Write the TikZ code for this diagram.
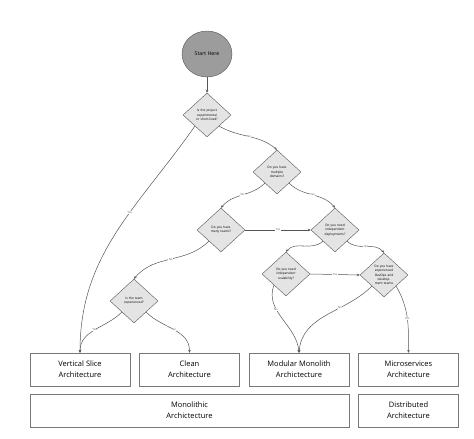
\documentclass[tikz,border=0pt]{standalone}
\usepackage{fontspec}
\setmainfont{Open Sans}
\usetikzlibrary{shapes.geometric,arrows.meta}
\definecolor{edgegray}{HTML}{555555}
\definecolor{boxgray}{HTML}{777777}
\definecolor{qfill}{HTML}{E4E4E4}
\definecolor{startfill}{HTML}{9C9C9C}
\tikzset{
  start/.style={ellipse, draw=edgegray, fill=startfill, minimum width=50pt, minimum height=46pt, font=\fontsize{5.2}{6}\selectfont},
  question/.style={diamond, draw=edgegray, fill=qfill, minimum width=48pt, minimum height=44pt, inner sep=0pt, text width=24pt, align=center, font=\fontsize{3.2}{4.2}\selectfont},
  archbox/.style={rectangle, draw=boxgray, minimum width=100pt, minimum height=33pt, align=center, font=\fontsize{7.5}{11}\selectfont},
  flow/.style={->, edgegray, line width=0.5pt, >={Stealth[length=3pt,width=2.6pt]}},
  lbl/.style={fill=white, inner sep=0.4pt, text=edgegray, font=\fontsize{2.8}{3}\selectfont}
}
\begin{document}
\begin{tikzpicture}[x=1pt,y=1pt]
\useasboundingbox (0,0) rectangle (474,439);
% start and questions
\node[start] (start) at (207,385) {Start Here};
\node[question] (short) at (207,324) {Is the project experimental or short-lived?};
\node[question] (domains) at (277,267) {Do you have multiple domains?};
\node[question] (teams) at (221,209) {Do you have many teams?};
\node[question] (deploy) at (335,209) {Do you need independent deployments?};
\node[question] (scale) at (286,165) {Do you need independent scalability?};
\node[question] (devops) at (384,164) {Do you have experienced DevOps and development teams};
\node[question] (skill) at (134,138) {Is the team experienced?};
% architectures
\node[archbox] (vslice) at (80,69.5) {Vertical Slice\\Architecture};
\node[archbox] (clean) at (189.5,69.5) {Clean\\Architecture};
\node[archbox] (modmono) at (299,69.5) {Modular Monolith\\Archictecture};
\node[archbox] (micro) at (408.5,69.5) {Microservices\\Architecture};
\node[archbox, minimum width=319pt] (mono) at (189.5,28.5) {Monolithic\\Archictecture};
\node[archbox] (dist) at (408.5,28.5) {Distributed\\Architecture};
% flow
\draw[flow] (start) -- (short);
\draw[flow] (short.south west) to[out=235,in=90] node[lbl,pos=0.4] {Yes} (vslice.north);
\draw[flow] (short.south east) to[out=-30,in=140] node[lbl] {No} (domains.north);
\draw[flow] (domains.south west) to[out=225,in=50] node[lbl] {No} (teams.north);
\draw[flow] (domains.south east) to[out=-45,in=130] node[lbl] {Yes} (deploy.north);
\draw[flow] (teams.east) -- node[lbl] {Yes} (deploy.west);
\draw[flow] (teams.south west) to[out=225,in=50] node[lbl] {No} (skill.north);
\draw[flow] (deploy.south west) to[out=225,in=50] node[lbl] {No} (scale.north);
\draw[flow] (deploy.south east) to[out=-45,in=130] node[lbl] {Yes} (devops.north);
\draw[flow] (scale.east) -- node[lbl] {Yes} (devops.west);
\draw[flow] (scale.south west) to[out=250,in=95] node[lbl,pos=0.35] {No} (modmono.north);
\draw[flow] (devops.south west) to[out=225,in=85] node[lbl,pos=0.35] {No} (modmono.north);
\draw[flow] (devops.south east) to[out=-60,in=90] node[lbl] {Yes} (micro.north);
\draw[flow] (skill.south west) to[out=225,in=90] node[lbl] {Yes} (vslice.north);
\draw[flow] (skill.south east) to[out=-45,in=90] node[lbl] {No} (clean.north);
\end{tikzpicture}
\end{document}
